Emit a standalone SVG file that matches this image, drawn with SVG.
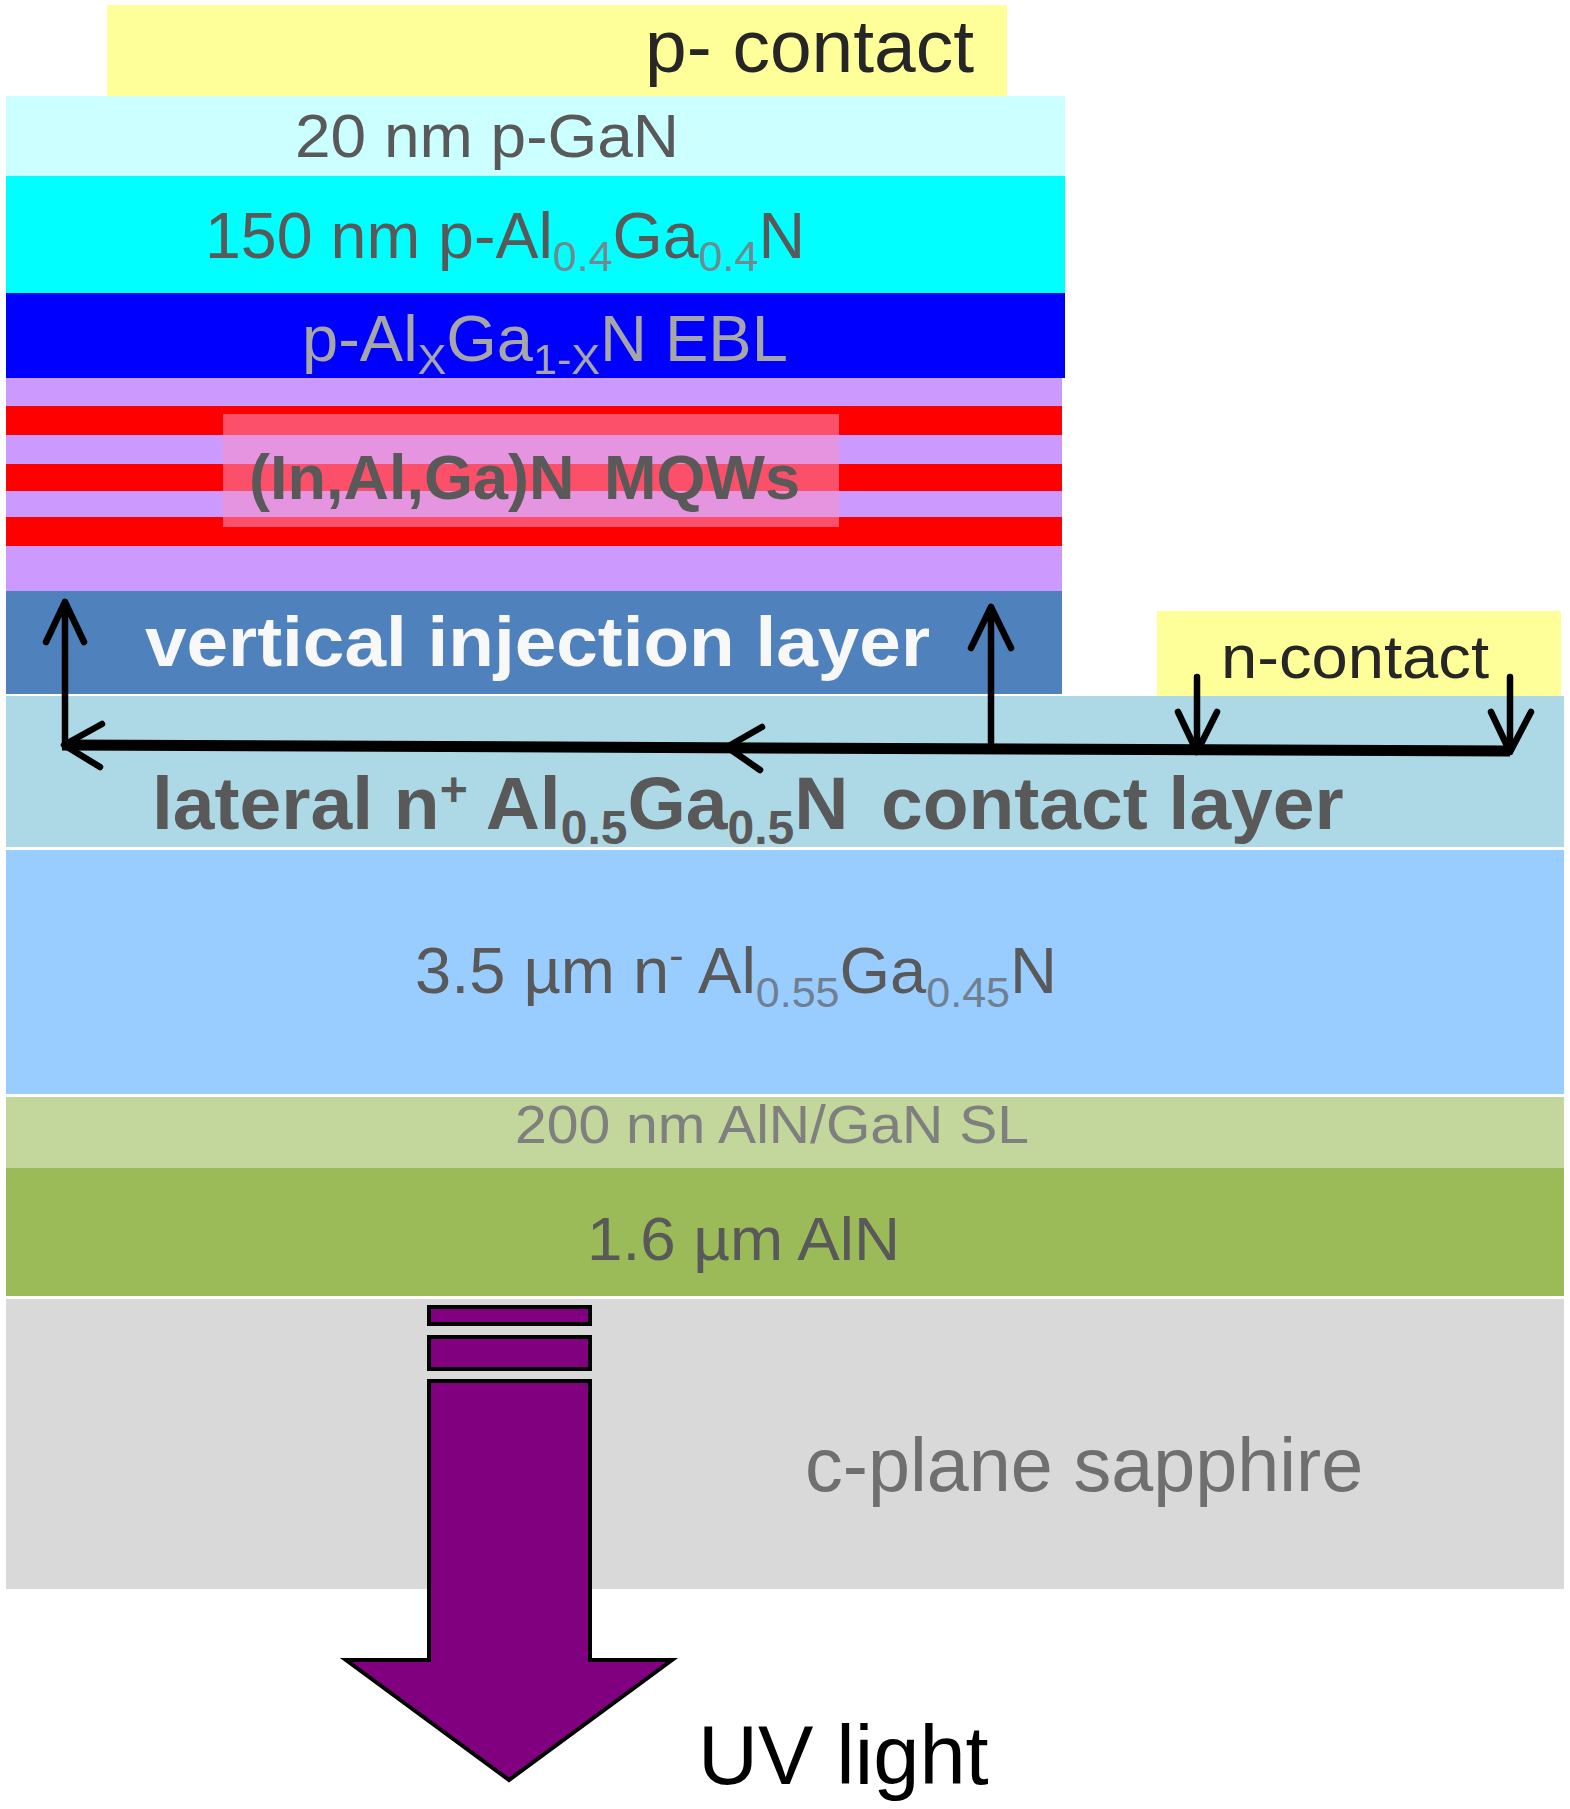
<svg xmlns="http://www.w3.org/2000/svg" width="1570" height="1809" viewBox="0 0 1570 1809">
<style>
text{font-family:"Liberation Sans",Arial,sans-serif;white-space:pre}
.g{fill:#595959}
.b{font-weight:bold}
.ar{fill:none;stroke:#000;stroke-width:6.5;stroke-linecap:round;stroke-linejoin:round}
.uv{fill:#800080;stroke:#000;stroke-width:4}
</style>
<rect width="1570" height="1809" fill="#fff"/>
<g id="p-contact"><rect x="107" y="5" width="900" height="91" fill="#ffff99"/><text x="645" y="72" font-size="75" fill="#262626" textLength="329" lengthAdjust="spacingAndGlyphs">p- contact</text></g>
<g id="p-gan"><rect x="6" y="96" width="1059" height="80" fill="#ccffff"/><text class="g" x="295" y="157" font-size="62" textLength="384" lengthAdjust="spacingAndGlyphs">20 nm p-GaN</text></g>
<g id="p-algan"><rect x="6" y="176" width="1059" height="117" fill="#00ffff"/><text class="g" x="205" y="258" font-size="64.5">150 nm p-Al<tspan font-size="43" dy="13" fill="#6f8a90">0.4</tspan><tspan dy="-13">Ga</tspan><tspan font-size="43" dy="13" fill="#6f8a90">0.4</tspan><tspan dy="-13">N</tspan></text></g>
<g id="ebl"><rect x="6" y="293" width="1059" height="85" fill="#0000ff"/><text x="302" y="361" font-size="65" fill="#a6a6a6">p-Al<tspan font-size="43" dy="13">X</tspan><tspan dy="-13">Ga</tspan><tspan font-size="43" dy="13">1-X</tspan><tspan dy="-13">N EBL</tspan></text></g>
<g id="mqws">
<rect x="6" y="378" width="1056" height="213" fill="#cc99ff"/>
<rect x="6" y="406" width="1056" height="29" fill="#ff0000"/>
<rect x="6" y="464" width="1056" height="27" fill="#ff0000"/>
<rect x="6" y="517" width="1056" height="29" fill="#ff0000"/>
<rect x="223" y="414" width="616" height="113" fill="#fa92c3" opacity="0.54"/>
<text class="g b" x="249" y="499" font-size="63">(In,Al,Ga)N</text><text class="g b" x="604" y="499" font-size="63">MQWs</text>
</g>
<g id="vertical-injection"><rect x="6" y="591" width="1056" height="103" fill="#4f81bd"/><text class="b" x="145" y="666" font-size="71" fill="#f8f8f8" textLength="785" lengthAdjust="spacingAndGlyphs">vertical injection layer</text></g>
<g id="n-contact"><rect x="1157" y="611" width="404" height="85" fill="#ffff99"/><text x="1221" y="678" font-size="62" fill="#262626" textLength="268" lengthAdjust="spacingAndGlyphs">n-contact</text></g>
<g id="lateral"><rect x="6" y="696" width="1558" height="151" fill="#add8e6"/><text class="g b" x="152" y="829" font-size="75">lateral n<tspan font-size="48" dy="-23">+</tspan><tspan dy="23"> Al</tspan><tspan font-size="48" dy="15">0.5</tspan><tspan dy="-15">Ga</tspan><tspan font-size="48" dy="15">0.5</tspan><tspan dy="-15">N</tspan></text><text class="g b" x="881" y="829" font-size="75">contact layer</text></g>
<g id="n-algan"><rect x="6" y="850" width="1558" height="244" fill="#99ccff"/><text class="g" x="415" y="993" font-size="65">3.5 µm n<tspan font-size="43" dy="-23">-</tspan><tspan dy="23"> Al</tspan><tspan font-size="43" dy="14" fill="#707f90">0.55</tspan><tspan dy="-14">Ga</tspan><tspan font-size="43" dy="14" fill="#707f90">0.45</tspan><tspan dy="-14">N</tspan></text></g>
<g id="sl"><rect x="6" y="1097" width="1558" height="71" fill="#c3d69b"/><text x="515" y="1143" font-size="53" fill="#7f7f7f" textLength="514" lengthAdjust="spacingAndGlyphs">200 nm AlN/GaN SL</text></g>
<g id="aln"><rect x="6" y="1168" width="1558" height="128" fill="#9bbb59"/><text class="g" x="587" y="1260" font-size="62" textLength="313" lengthAdjust="spacingAndGlyphs">1.6 µm AlN</text></g>
<g id="sapphire"><rect x="6" y="1299" width="1558" height="290" fill="#d9d9d9"/><text x="805" y="1491" font-size="75.5" fill="#6f6f6f">c-plane sapphire</text></g>
<g id="uv-arrow">
<rect class="uv" x="429" y="1307" width="161" height="17"/>
<rect class="uv" x="429" y="1337" width="161" height="32"/>
<polygon class="uv" points="429,1381 590,1381 590,1660 672,1660 509,1780 346,1660 429,1660"/>
</g>
<g id="uv-label"><text x="698" y="1784" font-size="83" fill="#000">UV light</text></g>
<g id="connectors">
<path d="M1510 751L62 745" fill="none" stroke="#000" stroke-width="11"/>
<path class="ar" d="M65 745V602M46 642L65 602L84 642"/>
<path class="ar" d="M102 724L64 745L100 767"/>
<path class="ar" d="M762 727L727 747L760 770"/>
<path class="ar" d="M991 748V607M971 648L991 607L1011 648"/>
<path class="ar" d="M1197 677V752M1178 712L1197 752L1217 712"/>
<path class="ar" d="M1510 677V752M1491 712L1510 752L1531 712"/>
</g>
</svg>
